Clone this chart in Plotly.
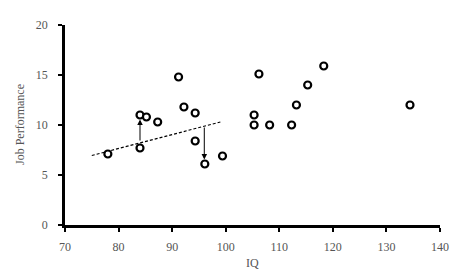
import plotly.graph_objects as go

# Data
iq = [78, 84, 84, 85.2, 87.3, 91.2, 92.2, 94.3, 94.3, 96.1, 99.4,
      105.3, 105.3, 106.2, 108.2, 112.3, 113.2, 115.3, 118.3, 134.4]
perf = [7.1, 7.7, 11.0, 10.8, 10.3, 14.8, 11.8, 11.2, 8.4, 6.1, 6.9,
        11.0, 10.0, 15.1, 10.0, 10.0, 12.0, 14.0, 15.9, 12.0]

fit_x = [75, 99]
fit_y = [6.95, 10.3]

# arrows: (x, y_start, y_end)
arrow_x = [84, 96]
arrow_y0 = [8.3, 9.9]
arrow_y1 = [10.55, 6.55]

x_ticks = [70, 80, 90, 100, 110, 120, 130, 140]
y_ticks = [0, 5, 10, 15, 20]

font_fam = "Liberation Serif, DejaVu Serif, serif"
txt_col = "#555"

fig = go.Figure()
fig.add_trace(go.Scatter(
    x=fit_x, y=fit_y, mode="lines",
    line=dict(color="black", width=1.2, dash="3px,2px"),
    hoverinfo="skip", showlegend=False))
fig.add_trace(go.Scatter(
    x=iq, y=perf, mode="markers",
    marker=dict(symbol="circle", size=7, color="white",
                line=dict(color="black", width=2.2)),
    showlegend=False))

for ax_, a0, a1 in zip(arrow_x, arrow_y0, arrow_y1):
    fig.add_annotation(x=ax_, y=a1, ax=ax_, ay=a0, xref="x", yref="y",
                       axref="x", ayref="y", showarrow=True, arrowhead=2,
                       arrowsize=1.1, arrowwidth=1, arrowcolor="black", text="")

# axis titles
fig.add_annotation(text="IQ", xref="paper", yref="paper", x=0.5, y=-0.19,
                   showarrow=False, xanchor="center", yanchor="middle",
                   font=dict(size=12, color=txt_col))
fig.add_annotation(text="Job Performance", xref="paper", yref="paper", x=-0.12, y=0.5,
                   showarrow=False, xanchor="center", yanchor="middle", textangle=-90,
                   font=dict(size=12, color=txt_col))

fig.update_layout(
    width=474, height=271,
    margin=dict(l=65, r=34, t=25, b=46),
    paper_bgcolor="white", plot_bgcolor="white",
    font=dict(family=font_fam, size=12, color=txt_col),
    xaxis=dict(range=[70, 140], tickvals=x_ticks, showgrid=False, zeroline=False,
               showline=True, linecolor="black", linewidth=2.5, automargin=False,
               ticks="outside", ticklen=4, tickwidth=2, tickcolor="black",
               ticklabelstandoff=5),
    yaxis=dict(range=[0, 20], tickvals=y_ticks, showgrid=False, zeroline=False,
               showline=True, linecolor="black", linewidth=2.5, automargin=False,
               ticks="outside", ticklen=4, tickwidth=2, tickcolor="black",
               ticklabelstandoff=8),
)

fig.write_html("out.html")
